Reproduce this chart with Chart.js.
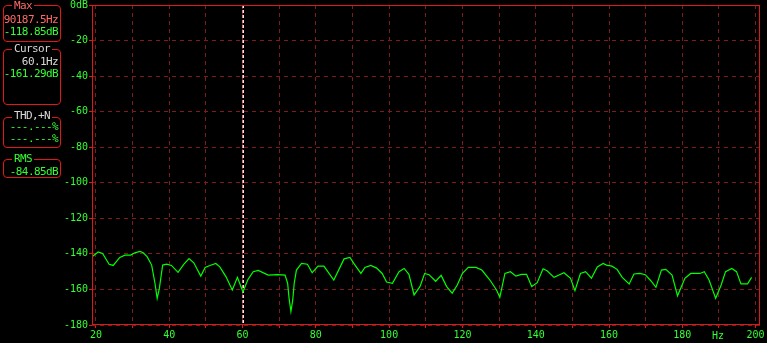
<!DOCTYPE html>
<html>
<head>
<meta charset="utf-8">
<script src="https://cdn.jsdelivr.net/npm/chart.js@4"></script>
<style>
  body { margin: 0; background: #000; }
  #wrap { position: relative; width: 767px; height: 343px; background: #000; overflow: hidden; }
  #spec { position: absolute; left: 0; top: 0; }
  .box { position: absolute; left: 3px; width: 58px; box-sizing: border-box; border: 1px solid #e01818; border-radius: 4px; }
  .t { position: absolute; font: 11px 'DejaVu Sans Mono', monospace; letter-spacing: -0.6px; line-height: 12px; white-space: pre; }
  .ttl { left: 12px; padding: 0 2px; background: #000; }
  .val { left: 0; width: 58px; text-align: right; }
  .pink { color: #ff6a6a; }
  .grey { color: #d8d8d8; }
  .grn { color: #33ff33; }
</style>
</head>
<body>
<div id="wrap">
  <canvas id="spec" width="767" height="343"></canvas>

  <div class="box" style="top:5px;height:37px"></div>
  <div class="t ttl pink" style="top:0px">Max</div>
  <div class="t val pink" style="top:14px">90187.5Hz</div>
  <div class="t val grn" style="top:26px">-118.85dB</div>

  <div class="box" style="top:49px;height:56px"></div>
  <div class="t ttl grey" style="top:43px">Cursor</div>
  <div class="t val grey" style="top:56px">60.1Hz</div>
  <div class="t val grn" style="top:68px">-161.29dB</div>

  <div class="box" style="top:117px;height:31px"></div>
  <div class="t ttl grey" style="top:110px">THD,+N</div>
  <div class="t val grn" style="top:121px">---.---%</div>
  <div class="t val grn" style="top:133px">---.---%</div>

  <div class="box" style="top:159px;height:19px"></div>
  <div class="t ttl grn" style="top:153px">RMS</div>
  <div class="t val grn" style="top:166px">-84.85dB</div>
</div>
<script>
const freqs = [19.1, 20.6, 21.8, 23.6, 24.7, 26.5, 27.9, 29.5, 30.6, 32.0, 32.9, 34.0, 35.2, 36.1, 36.7, 37.3, 38.2, 39.3,
  40.6, 42.4, 44.0, 45.4, 46.7, 48.6, 49.8, 51.1, 52.7, 53.8, 55.5, 57.2, 58.6, 60.1, 61.5, 62.9, 64.3, 67.0, 69.6,
  71.6, 72.3, 72.7, 73.2, 73.7, 74.1, 74.7, 76.1, 77.7, 79.0, 80.6, 82.2, 84.9, 87.7, 89.3, 90.5, 92.3, 93.4, 95.0,
  96.6, 98.1, 99.3, 100.9, 102.7, 104.1, 105.4, 106.8, 108.4, 109.7, 110.9, 112.7, 114.2, 115.7, 117.2, 118.6, 120.0,
  121.6, 123.7, 125.3, 127.5, 129.3, 130.2, 131.6, 133.1, 134.6, 136.1, 137.5, 138.9, 140.4, 142.0, 143.1, 145.0,
  147.7, 149.5, 150.7, 152.2, 153.6, 155.2, 156.8, 158.4, 159.3, 160.8, 162.2, 163.6, 165.5, 166.8, 168.4, 169.9,
  171.4, 172.8, 174.3, 175.5, 177.2, 178.7, 180.7, 182.3, 184.8, 186.0, 187.3, 189.1, 190.6, 191.8, 193.5, 194.8,
  196.0, 197.8, 198.9];
const levels = [-141.3, -138.9, -139.8, -145.8, -146.5, -142.0, -140.7, -140.7, -139.4, -138.6, -139.4, -141.7, -146.3, -156.5, -165.0, -159.4, -146.3, -145.8,
  -146.5, -150.4, -145.8, -142.6, -145.0, -152.5, -147.6, -146.5, -145.4, -147.3, -152.9, -160.3, -153.2, -161.3, -154.3, -150.0, -149.3, -151.9, -151.7,
  -151.9, -156.5, -165.0, -172.4, -165.9, -156.5, -149.1, -145.4, -145.8, -150.6, -146.9, -146.9, -154.7, -142.8, -142.0, -145.8, -151.0, -147.6, -146.5,
  -148.0, -151.0, -155.8, -156.5, -150.0, -148.2, -151.5, -163.1, -158.4, -151.0, -151.7, -155.4, -152.1, -158.4, -162.1, -157.5, -151.0,
  -147.6, -147.6, -149.1, -154.7, -160.3, -164.4, -151.0, -150.0, -152.5, -151.5, -151.5, -158.4, -156.2, -148.4, -149.5, -153.2,
  -150.6, -153.7, -160.7, -151.0, -150.0, -153.7, -147.3, -145.4, -146.3, -146.9, -148.7, -153.2, -156.9, -151.3, -151.0, -151.7,
  -155.1, -158.8, -149.1, -148.7, -151.9, -163.6, -153.7, -151.0, -151.0, -150.0, -154.7, -165.0, -157.5, -150.0, -148.2, -150.0,
  -156.9, -156.9, -153.2];
const xTicks = [20, 30, 40, 50, 60, 70, 80, 90, 100, 110, 120, 130, 140, 150, 160, 170, 180, 190, 200];
const yTicks = [0, -20, -40, -60, -80, -100, -120, -140, -160, -180];
const cursorHz = 60.1;

const RED = '#e01818';
const GRID = '#7e1c1c';
const TXT = '#33ff33';
const FONT = { family: "'DejaVu Sans Mono', monospace", size: 10 };

const frame = {
  id: 'frame',
  beforeDatasetsDraw(chart) {
    const { ctx, chartArea: a } = chart;
    const x = Math.floor(chart.scales.x.getPixelForValue(cursorHz));
    ctx.save();
    ctx.lineWidth = 1;
    ctx.setLineDash([3, 2]);
    ctx.strokeStyle = '#d88080';
    ctx.beginPath();
    ctx.moveTo(x + 0.5, a.top);
    ctx.lineTo(x + 0.5, a.bottom);
    ctx.stroke();
    ctx.strokeStyle = '#ffe4e4';
    ctx.beginPath();
    ctx.moveTo(x + 1.5, a.top);
    ctx.lineTo(x + 1.5, a.bottom);
    ctx.stroke();
    ctx.restore();
  },
  afterDraw(chart) {
    const { ctx, chartArea: a } = chart;
    ctx.save();
    ctx.strokeStyle = RED;
    ctx.lineWidth = 1;
    ctx.strokeRect(a.left + 0.5, a.top + 0.5, a.right - a.left - 1, a.bottom - a.top - 1);
    ctx.fillStyle = TXT;
    ctx.font = "10px 'DejaVu Sans Mono', monospace";
    ctx.textAlign = 'center';
    ctx.textBaseline = 'middle';
    ctx.fillText('Hz', 718, 336);
    ctx.restore();
  }
};

new Chart(document.getElementById('spec'), {
  type: 'line',
  data: {
    datasets: [{
      data: freqs.map((f, i) => ({ x: f, y: levels[i] })),
      borderColor: '#00ff00',
      borderWidth: 1.2,
      pointRadius: 0,
      tension: 0,
      fill: false
    }]
  },
  options: {
    responsive: false,
    animation: false,
    devicePixelRatio: 1,
    layout: { padding: { top: 5, right: 7, left: 0, bottom: 0 } },
    plugins: { legend: { display: false }, tooltip: { enabled: false } },
    scales: {
      x: {
        type: 'linear',
        min: 18.92,
        max: 201.2,
        afterBuildTicks: s => { s.ticks = xTicks.map(v => ({ value: v })); },
        afterFit: s => { s.height = 18; s.paddingLeft = 0; s.paddingRight = 0; },
        ticks: {
          color: TXT, font: FONT, padding: 1, maxRotation: 0, autoSkip: false,
          callback: v => (v % 20 === 0 ? String(v) : '')
        },
        grid: { color: GRID, tickColor: RED, tickLength: 3 },
        border: { display: false, dash: [4, 4] }
      },
      y: {
        min: -180,
        max: 0,
        afterBuildTicks: s => { s.ticks = yTicks.map(v => ({ value: v })); },
        afterFit: s => { s.width = 92; s.paddingTop = 0; s.paddingBottom = 0; },
        ticks: {
          color: TXT, font: FONT, padding: 1,
          callback: v => (v === 0 ? '0dB' : String(v))
        },
        grid: { color: GRID, tickColor: RED, tickLength: 3 },
        border: { display: false, dash: [4, 4] }
      }
    }
  },
  plugins: [frame]
});
</script>
</body>
</html>
